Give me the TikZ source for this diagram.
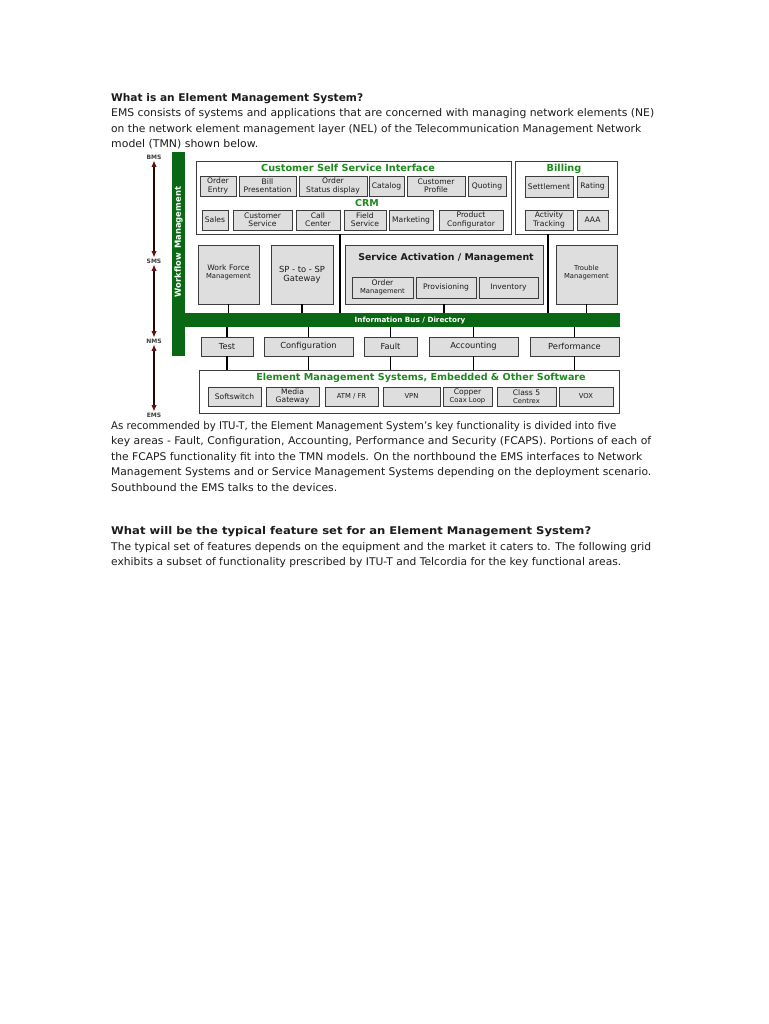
\documentclass[tikz,border=0pt]{standalone}
\usepackage{fontspec}
\usepackage{graphicx}
\setmainfont{DejaVu Sans}
\usetikzlibrary{arrows.meta}
\definecolor{bargreen}{RGB}{10,104,20}
\definecolor{titlegreen}{RGB}{30,138,30}
\definecolor{boxgray}{RGB}{222,222,222}
\definecolor{edge}{RGB}{60,60,60}
\definecolor{arrowred}{RGB}{100,16,16}
\definecolor{txt}{RGB}{28,28,28}
\newcommand\bx[7][]{\node[sbox,minimum width={#5-#3},minimum height={#6-#4},#1] (#2) at ({(#3+#5)/2},{(#4+#6)/2}) {#7};}
\newcommand\sm[1]{{\fontsize{6.8}{7.6}\selectfont #1}}
\newcommand\fitw[2]{\resizebox{#1pt}{\height}{#2}}
\tikzset{
  sbox/.style={draw=edge, fill=boxgray, line width=0.8pt, inner sep=0pt, align=center,
    font=\fontsize{7.6}{8.3}\selectfont, text=txt},
  obox/.style={draw=edge, fill=white, line width=0.9pt},
  conn/.style={draw=black, line width=1.2pt},
  body/.style={anchor=base west, inner sep=0pt, font=\fontsize{10.6}{12}\selectfont, text=txt},
  head/.style={anchor=base west, inner sep=0pt, font=\fontsize{10.6}{12}\selectfont\bfseries, text=txt},
  gtitle/.style={text=titlegreen, font=\fontsize{9.7}{10}\selectfont\bfseries, inner sep=0pt},
  lvl/.style={font=\fontsize{6}{6}\selectfont\bfseries, text=txt!85, inner sep=1pt},
  lvlarrow/.style={draw=black!65!arrowred, line width=1.2pt,
    {Latex[length=6.5pt,width=5.5pt,color=arrowred]}-{Latex[length=6.5pt,width=5.5pt,color=arrowred]}},
  bar/.style={fill=bargreen, draw=none, inner sep=0pt},
  bartext/.style={text=white, font=\fontsize{7.2}{7.2}\selectfont\bfseries, inner sep=0pt},
  fc/.style={font=\fontsize{8.3}{9}\selectfont},
  inlbl/.style={align=center, inner sep=0pt, text=txt, font=\fontsize{7.6}{8.3}\selectfont}
}
\begin{document}
\begin{tikzpicture}[x=1pt,y=-1pt]
\useasboundingbox[fill=white] (0,0) rectangle (768,1024);

% ---------- text ----------
\node[head] (t1) at (111,102) {\fitw{252}{What is an Element Management System?}};
\node[body] (t2) at (111,117) {\fitw{543}{EMS consists of systems and applications that are concerned with managing network elements (NE)}};
\node[body] (t3) at (111,132.5) {\fitw{530}{on the network element management layer (NEL) of the Telecommunication Management Network}};
\node[body] (t4) at (111,147.5) {\fitw{147}{model (TMN) shown below.}};
\node[body] (p1) at (111,429) {\fitw{505}{As recommended by ITU-T, the Element Management System's key functionality is divided into five}};
\node[body] (p2) at (111,444.5) {\fitw{540}{key areas - Fault, Configuration, Accounting, Performance and Security (FCAPS). Portions of each of}};
\node[body] (p3) at (111,460) {\fitw{531}{the FCAPS functionality fit into the TMN models. On the northbound the EMS interfaces to Network}};
\node[body] (p4) at (111,475.5) {\fitw{540}{Management Systems and or Service Management Systems depending on the deployment scenario.}};
\node[body] (p5) at (111,491) {\fitw{226}{Southbound the EMS talks to the devices.}};
\node[head] (q1) at (111,534) {\fitw{480}{What will be the typical feature set for an Element Management System?}};
\node[body] (q2) at (111,550) {\fitw{540}{The typical set of features depends on the equipment and the market it caters to. The following grid}};
\node[body] (q3) at (111,565) {\fitw{510}{exhibits a subset of functionality prescribed by ITU-T and Telcordia for the key functional areas.}};

% ---------- levels ----------
\node[lvl] (bms) at (154,157) {BMS};
\node[lvl] (sms) at (154,261) {SMS};
\node[lvl] (nms) at (154,341) {NMS};
\node[lvl] (emsl) at (154,415) {EMS};
\draw[lvlarrow] (bms.south) -- (sms.north);
\draw[lvlarrow] (sms.south) -- (nms.north);
\draw[lvlarrow] (nms.south) -- (emsl.north);

% ---------- bars ----------
\node[bar, minimum width=13, minimum height=204] (wf) at (178.5,254) {};
\node[bar, minimum width=435, minimum height=14] (bus) at (402.5,320) {};
\node[bartext, rotate=90, font=\fontsize{8.4}{8.4}\selectfont\bfseries] (wft) at (178.5,242) {Workflow\enspace Management};
\node[bartext] (bust) at (410,320.5) {Information Bus / Directory};

% ---------- outer boxes ----------
\bx[obox]{csi}{196}{161}{511}{234}{}
\bx[obox]{bill}{515}{161}{617}{234}{}
\bx[obox]{ems}{199}{370}{619}{413}{}
\node[gtitle] (csit) at (348,168) {Customer Self Service Interface};
\node[gtitle, font=\fontsize{9.5}{10}\selectfont\bfseries] (crm) at (367,203) {CRM};
\node[gtitle] (billt) at (564,169) {Billing};
\node[gtitle, font=\fontsize{9.6}{10}\selectfont\bfseries] (emst) at (421,378) {Element Management Systems, Embedded \& Other Software};

% ---------- CSI row 1 ----------
\bx{oe}{200}{176}{236}{196}{Order\\Entry}
\bx{bp}{239}{176}{296}{196}{Bill\\Presentation}
\bx{osd}{299}{176}{367}{196}{Order\\Status display}
\bx{cat}{369}{176}{404}{196}{Catalog}
\bx{cp}{407}{176}{465}{196}{Customer\\Profile}
\bx{quo}{468}{176}{506}{196}{Quoting}
% ---------- CSI row 2 ----------
\bx{sal}{202}{210}{228}{230}{Sales}
\bx{cs}{233}{210}{292}{230}{Customer\\Service}
\bx{cc}{296}{210}{340}{230}{Call\\Center}
\bx{fs}{344}{210}{386}{230}{Field\\Service}
\bx{mkt}{389}{210}{433}{230}{Marketing}
\bx{pc}{439}{210}{503}{230}{Product\\Configurator}
% ---------- Billing ----------
\bx{set}{525}{176}{573}{197}{Settlement}
\bx{rat}{577}{176}{608}{197}{Rating}
\bx{act}{525}{210}{573}{230}{Activity\\Tracking}
\bx{aaa}{577}{210}{608}{230}{AAA}

% ---------- middle ----------
\bx{wfm}{198}{245}{259}{304}{}
\node[inlbl] (wfmt) at (228.5,272) {Work Force\\\sm{Management}};
\bx{spg}{271}{245}{333}{304}{}
\node[inlbl, font=\fontsize{8.4}{8.8}\selectfont] (spgt) at (302,275) {SP - to - SP\\Gateway};
\bx{sa}{345}{245}{543}{304}{}
\node[text=txt, font=\fontsize{9.4}{10}\selectfont\bfseries, inner sep=0pt] (sat) at (446,258) {Service Activation / Management};
\bx{om}{352}{277}{413}{298}{Order\\\sm{Management}}
\bx{prv}{416}{277}{476}{298}{Provisioning}
\bx{inv}{479}{277}{538}{298}{Inventory}
\bx{tm}{556}{245}{617}{304}{}
\node[inlbl] (tmt) at (586.5,272.5) {\sm{Trouble}\\\sm{Management}};
\coordinate (v1) at (340,234);
\coordinate (v2) at (548,234);
\draw[conn] (v1) -- (v1 |- bus.north);
\draw[conn] (v2) -- (v2 |- bus.north);
\foreach \n in {wfm,spg,sa,tm} \draw[conn] (\n.south) -- (\n.south |- bus.north);

% ---------- FCAPS ----------
\bx[fc]{tst}{201}{337}{253}{356}{Test}
\bx[fc]{cfg}{264}{337}{353}{356}{Configuration}
\bx[fc]{flt}{364}{337}{417}{356}{Fault}
\bx[fc]{acc}{429}{337}{518}{356}{Accounting}
\bx[fc]{prf}{530}{337}{619}{356}{Performance}
\foreach \n in {tst,cfg,flt,acc,prf} {
  \draw[conn] (\n.north) -- (\n.north |- bus.south);
  \draw[conn] (\n.south) -- (\n.south |- ems.north);
}

% ---------- EMS row ----------
\bx{sw}{208}{387}{261}{406}{Softswitch}
\bx{mg}{266}{387}{319}{406}{Media\\Gateway}
\bx{atm}{325}{387}{378}{406}{\sm{ATM / FR}}
\bx{vpn}{383}{387}{440}{406}{\sm{VPN}}
\bx{cop}{443}{387}{492}{406}{Copper\\\sm{Coax Loop}}
\bx{cl5}{497}{387}{556}{406}{Class 5\\\sm{Centrex}}
\bx{vox}{559}{387}{613}{406}{\sm{VOX}}
\end{tikzpicture}
\end{document}
